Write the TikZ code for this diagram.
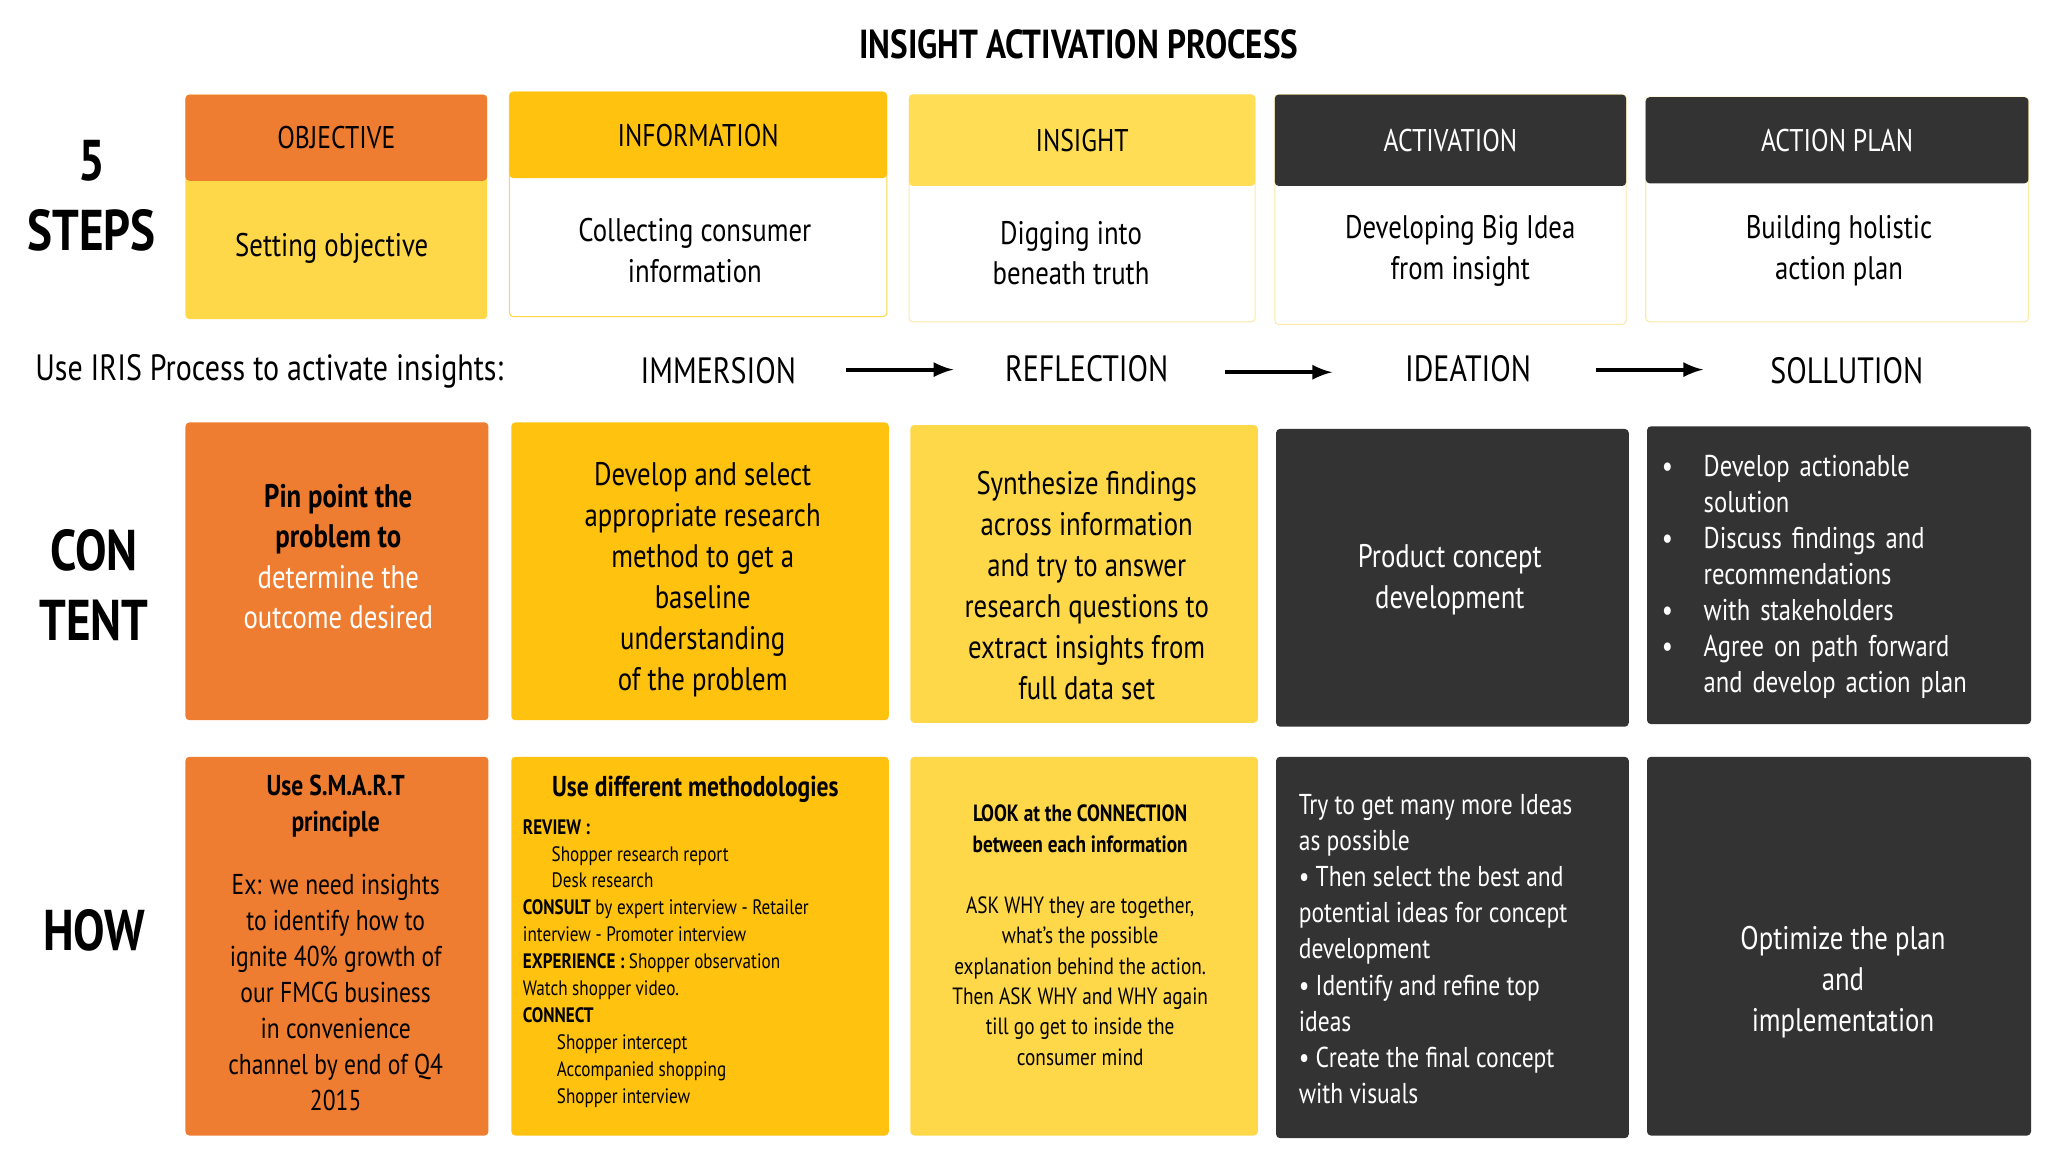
\documentclass[tikz,border=0pt]{standalone}
\usepackage{fontspec}
\setmainfont[FakeStretch=0.82]{PT Sans}
\definecolor{org}{HTML}{EF7D31}
\definecolor{gld}{HTML}{FFC20E}
\definecolor{ylw}{HTML}{FFD84A}
\definecolor{lyl}{HTML}{FFDD55}
\definecolor{drk}{HTML}{333333}
\definecolor{bdr}{HTML}{FBE9A6}
\begin{document}
\begin{tikzpicture}[x=1pt,y=-1pt,
 bx/.style={rounded corners=1.5pt,anchor=north,inner sep=3pt,align=center,font=\fontsize{12.5}{15.5}\selectfont},
 hd/.style={bx,font=\fontsize{12}{14}\selectfont,minimum height=33pt},
 arr/.style={-latex,line width=1.6pt}]
\useasboundingbox (0,0) rectangle (784,441);
\node[font=\bfseries\fontsize{15.5}{18}\selectfont] (title) at (413,17) {INSIGHT ACTIVATION PROCESS};
\node[font=\bfseries\fontsize{22}{27}\selectfont,align=center] (l1) at (35,75) {5\\STEPS};
\node[font=\bfseries\fontsize{22}{27}\selectfont,align=center] (l2) at (36,224) {CON\\TENT};
\node[font=\bfseries\fontsize{22}{27}\selectfont] (l3) at (36,356) {HOW};
% row 1
\node[bx,fill=ylw,minimum width=115.5pt,minimum height=86pt] (b1) at (128.75,36) {};
\node[hd,fill=org,minimum width=115.5pt] (h1) at (128.75,36) {OBJECTIVE};
\node (t1) at (127,95) {\fontsize{12.5}{15.5}\selectfont Setting objective};
\node[bx,draw=ylw,fill=white,minimum width=144.5pt,minimum height=86pt] (b2) at (267.25,35) {};
\node[hd,fill=gld,minimum width=144.5pt] (h2) at (267.25,35) {INFORMATION};
\node[align=center,font=\fontsize{12.5}{15.5}\selectfont] (t2) at (266,96) {Collecting consumer\\information};
\node[bx,draw=bdr,fill=white,minimum width=132.5pt,minimum height=87pt] (b3) at (414.25,36) {};
\node[hd,fill=lyl,minimum width=132.5pt,minimum height=35pt] (h3) at (414.25,36) {INSIGHT};
\node[align=center,font=\fontsize{12.5}{15.5}\selectfont] (t3) at (410,97) {Digging into\\beneath truth};
\node[bx,draw=bdr,fill=white,minimum width=134.5pt,minimum height=88pt] (b4) at (555.25,36) {};
\node[hd,fill=drk,text=white,minimum width=134.5pt,minimum height=35pt] (h4) at (555.25,36) {ACTIVATION};
\node[align=center,font=\fontsize{12.5}{15.5}\selectfont] (t4) at (559,96) {Developing Big Idea\\from insight};
\node[bx,draw=bdr,fill=white,minimum width=146.5pt,minimum height=86pt] (b5) at (703.25,37) {};
\node[hd,fill=drk,text=white,minimum width=146.5pt,minimum height=33pt] (h5) at (703.25,37) {ACTION PLAN};
\node[align=center,font=\fontsize{12.5}{15.5}\selectfont] (t5) at (704,96) {Building holistic\\action plan};
% IRIS row
\begin{scope}[every node/.style={font=\fontsize{14}{16}\selectfont}]
\node[anchor=west] (iris) at (10,142) {Use IRIS Process to activate insights:};
\node (im) at (275,142) {IMMERSION};
\node (re) at (416,141) {REFLECTION};
\node (id) at (562,141) {IDEATION};
\node (so) at (707,142) {SOLLUTION};
\end{scope}
\coordinate (a1s) at (324,141.5); \coordinate (a1e) at (365,141.5);
\coordinate (a2s) at (469,142.5); \coordinate (a2e) at (510,142.5);
\coordinate (a3s) at (611,141.5); \coordinate (a3e) at (652,141.5);
\draw[arr] (a1s) -- (a1e); \draw[arr] (a2s) -- (a2e); \draw[arr] (a3s) -- (a3e);
% row 2
\node[bx,fill=org,minimum width=116pt,minimum height=114pt] (c1) at (129,161.5) {};
\node[align=center,font=\fontsize{12.5}{15.5}\selectfont] (ct1) at (129.5,213) {\textbf{Pin point the}\\\textbf{problem to}\\\textcolor{white}{determine the}\\\textcolor{white}{outcome desired}};
\node[bx,fill=gld,minimum width=144.5pt,minimum height=114pt] (c2) at (268,161.5) {};
\node[align=center,font=\fontsize{12.5}{15.7}\selectfont] (ct2) at (269,222) {Develop and select\\appropriate research\\method to get a\\baseline\\understanding\\of the problem};
\node[bx,fill=ylw,minimum width=133pt,minimum height=114pt] (c3) at (415,162.5) {};
\node[align=center,font=\fontsize{12.5}{15.7}\selectfont] (ct3) at (416,224) {Synthesize findings\\across information\\and try to answer\\research questions to\\extract insights from\\full data set};
\node[bx,fill=drk,minimum width=135pt,minimum height=114pt] (c4) at (556,164) {};
\node[align=center,text=white,font=\fontsize{12.5}{15.7}\selectfont] (ct4) at (555,222) {Product concept\\development};
\node[bx,fill=drk,minimum width=147pt,minimum height=114pt] (c5) at (704,163) {};
\node[anchor=north west,text=white,text width=135pt,font=\fontsize{11.5}{13.8}\selectfont,inner sep=0pt] (ct5) at (636,174) {%
\makebox[16pt][l]{•}Develop actionable\\\hspace*{16pt}solution\\\makebox[16pt][l]{•}Discuss findings and\\\hspace*{16pt}recommendations\\\makebox[16pt][l]{•}with stakeholders\\\makebox[16pt][l]{•}Agree on path forward\\\hspace*{16pt}and develop action plan};
% row 3
\node[bx,fill=org,minimum width=116pt,minimum height=145pt] (d1) at (129,289.5) {};
\node[align=center,font=\fontsize{11}{13.8}\selectfont] (dt1) at (128.5,361) {\textbf{Use S.M.A.R.T}\\\textbf{principle}\\[10pt]Ex: we need insights\\to identify how to\\ignite 40\% growth of\\our FMCG business\\in convenience\\channel by end of Q4\\2015};
\node[bx,fill=gld,minimum width=144.5pt,minimum height=145pt] (d2) at (268,289.5) {};
\node[anchor=north west,align=left,font=\fontsize{8}{10.3}\selectfont,inner sep=0pt] (dt2) at (200,297) {%
\makebox[132pt][c]{\bfseries\fontsize{11}{13}\selectfont Use different methodologies}\\[4pt]
\textbf{REVIEW :}\\\hspace*{11pt}Shopper research report\\\hspace*{11pt}Desk research\\
\textbf{CONSULT} by expert interview - Retailer\\interview - Promoter interview\\
\textbf{EXPERIENCE :} Shopper observation\\Watch shopper video.\\\textbf{CONNECT}\\
\hspace*{13pt}Shopper intercept\\\hspace*{13pt}Accompanied shopping\\\hspace*{13pt}Shopper interview};
\node[bx,fill=ylw,minimum width=133pt,minimum height=145pt] (d3) at (415,289.5) {};
\node[align=center,font=\fontsize{9}{11.6}\selectfont] (dt3) at (413.5,358) {\textbf{LOOK at the CONNECTION}\\\textbf{between each information}\\[12pt]ASK WHY they are together,\\what's the possible\\explanation behind the action.\\Then ASK WHY and WHY again\\till go get to inside the\\consumer mind};
\node[bx,fill=drk,minimum width=135pt,minimum height=146pt] (d4) at (556,289.5) {};
\node[anchor=north west,align=left,text=white,font=\fontsize{11}{13.8}\selectfont,inner sep=0pt] (dt4) at (497,304) {Try to get many more Ideas\\as possible\\• Then select the best and\\potential ideas for concept\\development\\• Identify and refine top\\ideas\\• Create the final concept\\with visuals};
\node[bx,fill=drk,minimum width=147pt,minimum height=145pt] (d5) at (704,289.5) {};
\node[align=center,text=white,font=\fontsize{12.5}{15.7}\selectfont] (dt5) at (705.5,376) {Optimize the plan\\and\\implementation};
\end{tikzpicture}
\end{document}
